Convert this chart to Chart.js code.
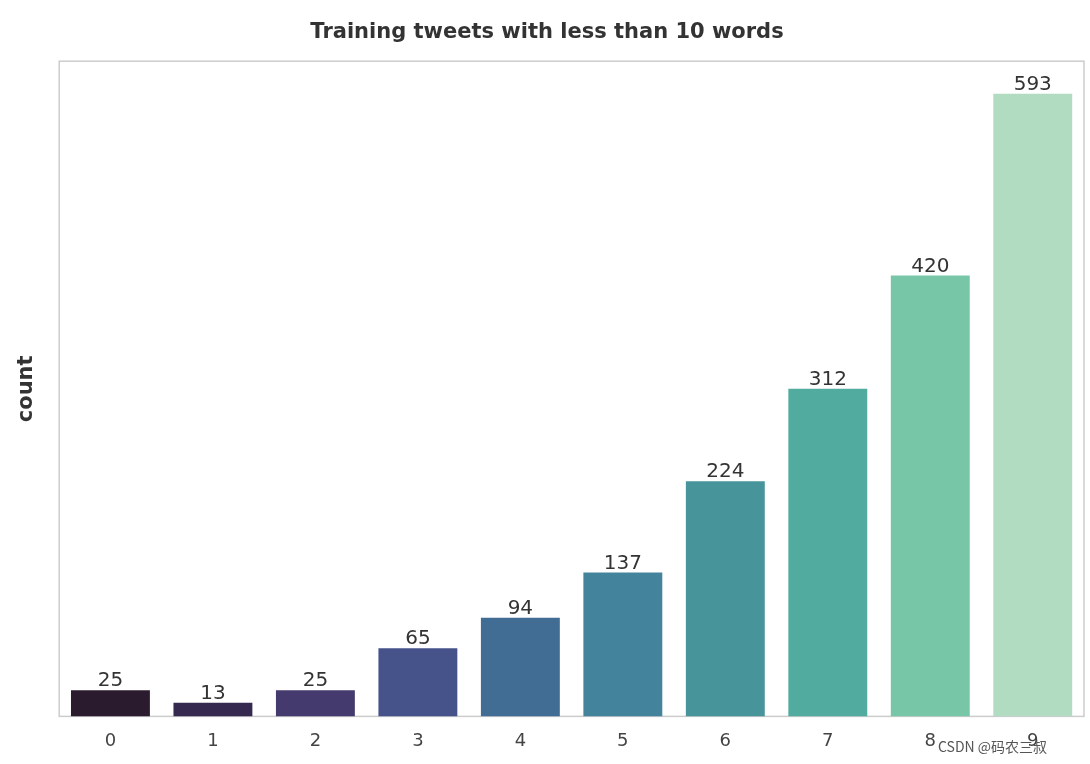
<!DOCTYPE html>
<html><head><meta charset="utf-8">
<script src="https://cdn.jsdelivr.net/npm/chart.js@4"></script>
<style>body{margin:0;background:#fff}#w{position:relative;width:1090px;height:764px}
#wm{position:absolute;left:938px;top:736px;font:14px "Noto Sans CJK SC",sans-serif;color:#555}</style>
</head><body><div id="w"><canvas id="c" width="1090" height="764"></canvas><div id="wm">CSDN @码农三叔</div></div>
<script>
const categories=["0","1","2","3","4","5","6","7","8","9"];
const counts=[25,13,25,65,94,137,224,312,420,593];
const colors=["#2a1b2e","#36294f","#453a6e","#46528a","#416c94","#43839b","#47959b","#52ab9f","#78c6a8","#b2dcc1"];
const labelPlugin={id:'lbl',afterDatasetsDraw(ch){const ctx=ch.ctx;const m=ch.getDatasetMeta(0);ctx.save();ctx.fillStyle='#333';ctx.font='20px "DejaVu Sans"';ctx.textAlign='center';ctx.textBaseline='bottom';
m.data.forEach((b,i)=>ctx.fillText(counts[i],b.x,b.y+1));ctx.restore();}};
const borderPlugin={id:'brd',beforeDraw(ch){const a=ch.chartArea,ctx=ch.ctx;ctx.save();ctx.strokeStyle='#ccc';ctx.lineWidth=1.5;ctx.strokeRect(a.left,a.top,a.width,a.height);ctx.restore();}};
new Chart(document.getElementById('c'),{type:'bar',
data:{labels:categories,datasets:[{data:counts,backgroundColor:colors,categoryPercentage:1,barPercentage:0.77}]},
options:{responsive:false,animation:false,devicePixelRatio:1,
layout:{padding:{left:10,right:6,top:0,bottom:6}},
plugins:{legend:{display:false},tooltip:{enabled:false},
title:{display:true,text:'Training tweets with less than 10 words',color:'#333',font:{family:'DejaVu Sans',size:21,weight:'bold'},padding:{top:20,bottom:16}}},
scales:{x:{grid:{display:false},border:{display:false},ticks:{color:'#444',font:{family:'DejaVu Sans',size:18},padding:6}},
y:{min:0,max:624,grid:{display:false},border:{display:false},ticks:{display:false},
title:{display:true,text:'count',color:'#333',font:{family:'DejaVu Sans',size:21,weight:'bold'},padding:{bottom:12}}}}},
plugins:[labelPlugin,borderPlugin]});
</script></body></html>
